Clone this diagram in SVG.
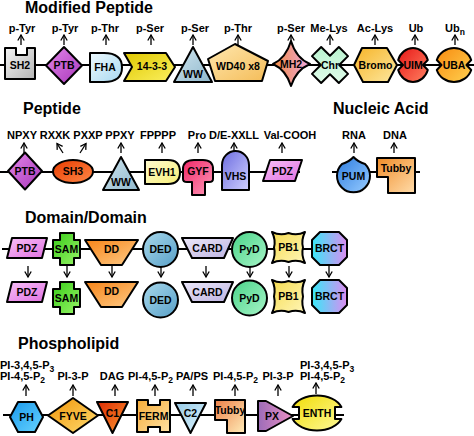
<svg xmlns="http://www.w3.org/2000/svg" width="474" height="436" viewBox="0 0 474 436">
<style>
.sh{stroke:#000;stroke-width:2;stroke-linejoin:round}
.bb{stroke:#000;stroke-width:2;fill:none}
.ar{stroke:#000;stroke-width:1.3;fill:none;marker-end:url(#ah)}
text{font-family:"Liberation Sans",Arial,Helvetica,sans-serif;font-weight:bold;fill:#000}
.t{font-size:10.5px;text-anchor:middle}
.l{font-size:11px;text-anchor:middle}
.ls{font-size:11px;text-anchor:start}
.ti{font-size:16px}
.sub{font-size:8.5px}
</style>
<defs>
<marker id="ah" viewBox="0 0 8 8" refX="6.5" refY="4" markerWidth="8" markerHeight="8" markerUnits="userSpaceOnUse" orient="auto"><path d="M1,0.8 L6.5,4 L1,7.2" fill="none" stroke="#000" stroke-width="1.3"/></marker>
<linearGradient id="gGray" x1="0" y1="0" x2="1" y2="1"><stop offset="0" stop-color="#f4f4f4"/><stop offset="1" stop-color="#b4b4b4"/></linearGradient>
<linearGradient id="gPtb" x1="0" y1="0" x2="1" y2="1"><stop offset="0" stop-color="#e488ec"/><stop offset="1" stop-color="#a836b8"/></linearGradient>
<linearGradient id="gFha" x1="0" y1="0" x2="1" y2="1"><stop offset="0" stop-color="#eefaff"/><stop offset="1" stop-color="#a8d8f0"/></linearGradient>
<linearGradient id="gYel" x1="0" y1="0" x2="1" y2="1"><stop offset="0" stop-color="#e0c800"/><stop offset="1" stop-color="#fbf060"/></linearGradient>
<linearGradient id="gWw" x1="0" y1="0" x2="1" y2="1"><stop offset="0" stop-color="#d0e6f0"/><stop offset="1" stop-color="#90b8cc"/></linearGradient>
<linearGradient id="gWd" x1="0" y1="0" x2="1" y2="1"><stop offset="0" stop-color="#ffe8b0"/><stop offset="1" stop-color="#f4bc58"/></linearGradient>
<linearGradient id="gMh2" x1="0" y1="0" x2="1" y2="0"><stop offset="0" stop-color="#f08a40"/><stop offset="1" stop-color="#f0a8e0"/></linearGradient>
<linearGradient id="gChr" x1="0" y1="0" x2="1" y2="1"><stop offset="0" stop-color="#b0f0c8"/><stop offset="1" stop-color="#eafff2"/></linearGradient>
<linearGradient id="gBro" x1="0" y1="0" x2="1" y2="1"><stop offset="0" stop-color="#f6b428"/><stop offset="1" stop-color="#fde8a0"/></linearGradient>
<linearGradient id="gUim" x1="0" y1="0" x2="1" y2="1"><stop offset="0" stop-color="#e81818"/><stop offset="1" stop-color="#ff8060"/></linearGradient>
<linearGradient id="gUba" x1="0" y1="0" x2="1" y2="1"><stop offset="0" stop-color="#f88c10"/><stop offset="1" stop-color="#ffd050"/></linearGradient>
<linearGradient id="gSh3" x1="0" y1="0" x2="1" y2="1"><stop offset="0" stop-color="#e83c00"/><stop offset="1" stop-color="#ff8848"/></linearGradient>
<linearGradient id="gEvh" x1="0" y1="0" x2="1" y2="1"><stop offset="0" stop-color="#fffad0"/><stop offset="1" stop-color="#f6ee78"/></linearGradient>
<linearGradient id="gGyf" x1="0" y1="0" x2="1" y2="1"><stop offset="0" stop-color="#f02868"/><stop offset="1" stop-color="#ff98b8"/></linearGradient>
<linearGradient id="gVhs" x1="0" y1="0" x2="1" y2="1"><stop offset="0" stop-color="#6c6ce0"/><stop offset="1" stop-color="#d0d0ff"/></linearGradient>
<linearGradient id="gPdz" x1="0" y1="0" x2="1" y2="1"><stop offset="0" stop-color="#f8c0f8"/><stop offset="1" stop-color="#e070e0"/></linearGradient>
<linearGradient id="gPum" x1="0" y1="0" x2="1" y2="1"><stop offset="0" stop-color="#2c7ce0"/><stop offset="1" stop-color="#98ccff"/></linearGradient>
<linearGradient id="gTub" x1="0" y1="0" x2="1" y2="1"><stop offset="0" stop-color="#f08c28"/><stop offset="1" stop-color="#ffdcaa"/></linearGradient>
<linearGradient id="gSam" x1="0" y1="0" x2="1" y2="1"><stop offset="0" stop-color="#38cc18"/><stop offset="1" stop-color="#98f468"/></linearGradient>
<linearGradient id="gDd" x1="0" y1="0" x2="1" y2="1"><stop offset="0" stop-color="#f68418"/><stop offset="1" stop-color="#ffcc88"/></linearGradient>
<linearGradient id="gDed" x1="0" y1="0" x2="1" y2="1"><stop offset="0" stop-color="#a8d8ec"/><stop offset="1" stop-color="#58a0c8"/></linearGradient>
<linearGradient id="gCard" x1="0" y1="0" x2="1" y2="1"><stop offset="0" stop-color="#ece8fa"/><stop offset="1" stop-color="#bcb2e0"/></linearGradient>
<linearGradient id="gPyd" x1="0" y1="0" x2="1" y2="1"><stop offset="0" stop-color="#48d488"/><stop offset="1" stop-color="#a8f4c8"/></linearGradient>
<linearGradient id="gPb1" x1="0" y1="0" x2="1" y2="1"><stop offset="0" stop-color="#f6dc50"/><stop offset="1" stop-color="#fff6b8"/></linearGradient>
<linearGradient id="gBrct" x1="0" y1="0" x2="1" y2="0"><stop offset="0" stop-color="#38e8f8"/><stop offset="1" stop-color="#dc8cf0"/></linearGradient>
<linearGradient id="gPh" x1="0" y1="0" x2="1" y2="1"><stop offset="0" stop-color="#1898ec"/><stop offset="1" stop-color="#68d4ff"/></linearGradient>
<linearGradient id="gFyve" x1="0" y1="0" x2="1" y2="1"><stop offset="0" stop-color="#f09408"/><stop offset="1" stop-color="#ffdc70"/></linearGradient>
<linearGradient id="gC1" x1="0" y1="0" x2="1" y2="1"><stop offset="0" stop-color="#dc2c04"/><stop offset="1" stop-color="#ff9a30"/></linearGradient>
<linearGradient id="gFerm" x1="0" y1="0" x2="1" y2="1"><stop offset="0" stop-color="#f6ac38"/><stop offset="1" stop-color="#ffe2a4"/></linearGradient>
<linearGradient id="gC2" x1="0" y1="0" x2="1" y2="1"><stop offset="0" stop-color="#98cce8"/><stop offset="1" stop-color="#dcf2fc"/></linearGradient>
<linearGradient id="gTub2" x1="0" y1="0" x2="1" y2="1"><stop offset="0" stop-color="#ec8048"/><stop offset="1" stop-color="#ffecb8"/></linearGradient>
<linearGradient id="gPx" x1="0" y1="0" x2="1" y2="0"><stop offset="0" stop-color="#9c6cb8"/><stop offset="1" stop-color="#ec90c4"/></linearGradient>
<linearGradient id="gEnth" x1="0" y1="0" x2="1" y2="1"><stop offset="0" stop-color="#f0dc08"/><stop offset="1" stop-color="#fffa98"/></linearGradient>
</defs>

<!-- section titles -->
<g id="titles">
<text class="ti" x="25" y="13">Modified Peptide</text>
<text class="ti" x="23" y="114">Peptide</text>
<text class="ti" x="333" y="114">Nucleic Acid</text>
<text class="ti" x="25" y="223">Domain/Domain</text>
<text class="ti" x="18" y="349">Phospholipid</text>
</g>

<!-- connectors: backbones and arrows -->
<g id="connectors">
<line class="bb" x1="0" y1="65" x2="474" y2="65"/>
<line class="bb" x1="0" y1="172" x2="300" y2="172"/>
<line class="bb" x1="332" y1="172" x2="420" y2="172"/>
<line class="bb" x1="2" y1="249" x2="313" y2="249"/>
<line class="bb" x1="3" y1="415" x2="344" y2="415"/>
<!-- row 1 arrows -->
<line class="ar" x1="21" y1="45" x2="21" y2="35"/>
<line class="ar" x1="64" y1="45" x2="64" y2="35"/>
<line class="ar" x1="106" y1="45" x2="106" y2="35"/>
<line class="ar" x1="151" y1="45" x2="151" y2="35"/>
<line class="ar" x1="193" y1="45" x2="193" y2="35"/>
<line class="ar" x1="238" y1="45" x2="238" y2="35"/>
<line class="ar" x1="291" y1="45" x2="291" y2="35"/>
<line class="ar" x1="330" y1="45" x2="330" y2="35"/>
<line class="ar" x1="375" y1="45" x2="375" y2="35"/>
<line class="ar" x1="415" y1="45" x2="415" y2="35"/>
<line class="ar" x1="455" y1="45" x2="455" y2="35"/>
<!-- row 2 arrows -->
<line class="ar" x1="24" y1="153" x2="24" y2="143"/>
<line class="ar" x1="63" y1="153" x2="57" y2="143.5"/>
<line class="ar" x1="80" y1="153" x2="86" y2="143.5"/>
<line class="ar" x1="121" y1="153" x2="121" y2="143"/>
<line class="ar" x1="162" y1="153" x2="162" y2="143"/>
<line class="ar" x1="198" y1="153" x2="198" y2="143"/>
<line class="ar" x1="234" y1="153" x2="234" y2="143"/>
<line class="ar" x1="282" y1="153" x2="282" y2="143"/>
<line class="ar" x1="354" y1="153" x2="354" y2="143"/>
<line class="ar" x1="394" y1="153" x2="394" y2="143"/>
<!-- row 3 arrows (down) -->
<line class="ar" x1="28" y1="266" x2="28" y2="277"/>
<line class="ar" x1="67" y1="266" x2="67" y2="277"/>
<line class="ar" x1="112" y1="266" x2="112" y2="277"/>
<line class="ar" x1="161" y1="266" x2="161" y2="277"/>
<line class="ar" x1="206" y1="266" x2="206" y2="277"/>
<line class="ar" x1="250" y1="266" x2="250" y2="277"/>
<line class="ar" x1="289" y1="266" x2="289" y2="277"/>
<line class="ar" x1="329" y1="266" x2="329" y2="277"/>
<!-- row 4 arrows -->
<line class="ar" x1="26" y1="396" x2="26" y2="385"/>
<line class="ar" x1="73" y1="396" x2="73" y2="385"/>
<line class="ar" x1="115" y1="396" x2="115" y2="385"/>
<line class="ar" x1="155" y1="396" x2="155" y2="385"/>
<line class="ar" x1="193" y1="396" x2="193" y2="385"/>
<line class="ar" x1="235" y1="396" x2="235" y2="385"/>
<line class="ar" x1="278" y1="396" x2="278" y2="385"/>
<line class="ar" x1="316" y1="394" x2="316" y2="383"/>
</g>

<!-- ligand labels -->
<g id="labels">
<text class="l" x="22" y="32">p-Tyr</text>
<text class="l" x="65" y="32">p-Tyr</text>
<text class="l" x="105" y="32">p-Thr</text>
<text class="l" x="150" y="32">p-Ser</text>
<text class="l" x="195" y="32">p-Ser</text>
<text class="l" x="238" y="32">p-Thr</text>
<text class="l" x="291" y="32">p-Ser</text>
<text class="l" x="329" y="32">Me-Lys</text>
<text class="l" x="375" y="32">Ac-Lys</text>
<text class="l" x="416" y="32">Ub</text>
<text class="l" x="455" y="32">Ub<tspan class="sub" dy="3">n</tspan></text>

<text class="l" x="22" y="139">NPXY</text>
<text class="l" x="55" y="139">RXXK</text>
<text class="l" x="88" y="139">PXXP</text>
<text class="l" x="120" y="139">PPXY</text>
<text class="l" x="158" y="139">FPPPP</text>
<text class="l" x="197" y="139">Pro</text>
<text class="l" x="234" y="139">D/E-XXLL</text>
<text class="l" x="290" y="139">Val-COOH</text>
<text class="l" x="354" y="139">RNA</text>
<text class="l" x="395" y="139">DNA</text>

<text class="ls" x="0" y="369">PI-3,4,5-P<tspan class="sub" dy="3">3</tspan></text>
<text class="ls" x="0" y="380">PI-4,5-P<tspan class="sub" dy="3">2</tspan></text>
<text class="l" x="73" y="380">PI-3-P</text>
<text class="l" x="112" y="380">DAG</text>
<text class="ls" x="128" y="380">PI-4,5-P<tspan class="sub" dy="3">2</tspan></text>
<text class="l" x="192" y="380">PA/PS</text>
<text class="ls" x="213" y="380">PI-4,5-P<tspan class="sub" dy="3">2</tspan></text>
<text class="l" x="278" y="380">PI-3-P</text>
<text class="ls" x="300" y="369">PI-3,4,5-P<tspan class="sub" dy="3">3</tspan></text>
<text class="ls" x="300" y="380">PI-4,5-P<tspan class="sub" dy="3">2</tspan></text>
</g>

<!-- Row 1: modified peptide binding domains -->
<g id="n-sh2"><path class="sh" fill="url(#gGray)" d="M5,48 H16 V55 H27 V48 H35 V79 H5 Z"/><text class="t" x="20" y="69">SH2</text></g>
<g id="n-ptb1"><path class="sh" fill="url(#gPtb)" d="M64,47 L82,65.5 L64,84 L46,65.5 Z"/><text class="t" x="64" y="69">PTB</text></g>
<g id="n-fha"><path class="sh" fill="url(#gFha)" d="M90,53 H104 Q122,53 122,67.5 Q122,82 104,82 H90 Z"/><text class="t" x="105" y="71">FHA</text></g>
<g id="n-1433"><path class="sh" fill="url(#gYel)" d="M124,53 H166 L175,67 L166,81 H124 L132,67 Z"/><text class="t" x="152" y="70">14-3-3</text></g>
<g id="n-ww1"><path class="sh" fill="url(#gWw)" d="M193,47 L212,82 H174 Z"/><text class="t" x="193" y="78">WW</text></g>
<g id="n-wd40"><path class="sh" fill="url(#gWd)" d="M235,44 L268,61 L262,81 L215,81 L208,59 Z"/><text class="t" x="238" y="70">WD40 x8</text></g>
<g id="n-mh2"><path class="sh" fill="url(#gMh2)" d="M291,41 Q296,58 310,64 Q296,70 291,86 Q286,70 273,64 Q286,58 291,41 Z"/><text class="t" x="291" y="68">MH2</text></g>
<g id="n-chr"><path class="sh" fill="url(#gChr)" transform="translate(330,65) rotate(45)" d="M-6.5,-19 H6.5 V-6.5 H19 V6.5 H6.5 V19 H-6.5 V6.5 H-19 V-6.5 H-6.5 Z"/><text class="t" x="330" y="69">Chr</text></g>
<g id="n-bromo"><path class="sh" fill="url(#gBro)" d="M362,48 H387 L397,65 L388,82 H363 L354,65 Z"/><text class="t" x="375.5" y="69">Bromo</text></g>
<g id="n-uim"><path class="sh" fill="url(#gUim)" d="M398.2,60 A15.5,17 0 0 1 427.8,60 L423,65 L427.8,70 A15.5,17 0 0 1 398.2,70 L403,65 Z"/><text class="t" x="413" y="69">UIM</text></g>
<g id="n-uba"><path class="sh" fill="url(#gUba)" d="M436.8,60 A18,17 0 0 1 471.2,60 L466.5,65 L471.2,70 A18,17 0 0 1 436.8,70 L441.5,65 Z"/><text class="t" x="454" y="69">UBA</text></g>

<!-- Row 2: peptide binding domains -->
<g id="n-ptb2"><path class="sh" fill="url(#gPtb)" d="M25,152.5 L42,171 L25,189.5 L8,171 Z"/><text class="t" x="25" y="175">PTB</text></g>
<g id="n-sh3"><ellipse class="sh" fill="url(#gSh3)" cx="73" cy="171.5" rx="20" ry="11.5"/><text class="t" x="73" y="175">SH3</text></g>
<g id="n-ww2"><path class="sh" fill="url(#gWw)" d="M121,157 L139,190 H103 Z"/><text class="t" x="121" y="186">WW</text></g>
<g id="n-evh1"><path class="sh" fill="url(#gEvh)" d="M145,160 H168 Q180,160 180,172 Q180,184 168,184 H145 Z"/><text class="t" x="162" y="176">EVH1</text></g>
<g id="n-gyf"><path class="sh" fill="url(#gGyf)" d="M183,179 V169 Q183,160 194,160 H203 Q213,160 213,169 V179 Q213,182 209,182 H205 V195 H192 V182 H187 Q183,182 183,179 Z"/><text class="t" x="198" y="175">GYF</text></g>
<g id="n-vhs"><path class="sh" fill="url(#gVhs)" d="M222,190 V165 A13.5,14 0 0 1 249,165 V190 Z"/><text class="t" x="235.5" y="180">VHS</text></g>
<g id="n-pdz1"><path class="sh" fill="url(#gPdz)" d="M270,160 H302 L295,181 H263 Z"/><text class="t" x="282.5" y="175">PDZ</text></g>
<g id="n-pum"><path class="sh" fill="url(#gPum)" d="M353.5,157 Q358,162 365,164 A16.5,16.5 0 1 1 342,164 Q349,162 353.5,157 Z"/><text class="t" x="353.5" y="180">PUM</text></g>
<g id="n-tubby1"><path class="sh" fill="url(#gTub)" d="M377,158 H415 V193 H388 V177 H377 Z"/><text class="t" x="396" y="172">Tubby</text></g>

<!-- Row 3: domain/domain, top -->
<g id="n-pdz2"><path class="sh" fill="url(#gPdz)" d="M12,238 H47 L42,258 H7 Z"/><text class="t" x="27" y="252">PDZ</text></g>
<g id="n-sam"><path class="sh" fill="url(#gSam)" d="M60,233 H74 V240 H80 V258 H74 V265 H60 V258 H53 V240 H60 Z"/><text class="t" x="66.5" y="253">SAM</text></g>
<g id="n-dd"><path class="sh" fill="url(#gDd)" d="M85,240 H138 L122,265 H101 Z"/><text class="t" x="111.5" y="253">DD</text></g>
<g id="n-ded"><circle class="sh" fill="url(#gDed)" cx="160.5" cy="249.5" r="17.5"/><text class="t" x="160.5" y="253">DED</text></g>
<g id="n-card"><path class="sh" fill="url(#gCard)" d="M182,238 H233 L224,258 H192 Z"/><text class="t" x="207.5" y="252">CARD</text></g>
<g id="n-pyd"><circle class="sh" fill="url(#gPyd)" cx="249.5" cy="249.5" r="17.5"/><text class="t" x="249.5" y="253">PyD</text></g>
<g id="n-pb1"><path class="sh" fill="url(#gPb1)" d="M272,232 Q280,236 288.5,233 Q297,236 305,232 Q301,240 303,247.5 Q301,255 305,263 Q297,259 288.5,262 Q280,259 272,263 Q276,255 274,247.5 Q276,240 272,232 Z"/><text class="t" x="288.5" y="251">PB1</text></g>
<g id="n-brct"><path class="sh" fill="url(#gBrct)" d="M320,232 H339 L347,240 V257 L339,265 H320 L312,257 V240 Z"/><text class="t" x="329.5" y="252">BRCT</text></g>

<!-- Row 3: domain/domain, bottom -->
<g id="n-pdz3"><path class="sh" fill="url(#gPdz)" d="M12,282 H47 L42,302 H7 Z"/><text class="t" x="27" y="296">PDZ</text></g>
<g id="n-sam2"><path class="sh" fill="url(#gSam)" d="M60,282 H74 V289 H80 V307 H74 V314 H60 V307 H53 V289 H60 Z"/><text class="t" x="66.5" y="302">SAM</text></g>
<g id="n-dd2"><path class="sh" fill="url(#gDd)" d="M85,282 H138 L122,307 H101 Z"/><text class="t" x="111.5" y="295">DD</text></g>
<g id="n-ded2"><circle class="sh" fill="url(#gDed)" cx="160.5" cy="300" r="17.5"/><text class="t" x="160.5" y="303.5">DED</text></g>
<g id="n-card2"><path class="sh" fill="url(#gCard)" d="M182,282 H233 L224,302 H192 Z"/><text class="t" x="207.5" y="296">CARD</text></g>
<g id="n-pyd2"><circle class="sh" fill="url(#gPyd)" cx="249.5" cy="298" r="17.5"/><text class="t" x="249.5" y="301.5">PyD</text></g>
<g id="n-pb12"><path class="sh" fill="url(#gPb1)" d="M272,280 Q280,284 288.5,281 Q297,284 305,280 Q301,288 303,296.5 Q301,305 305,313 Q297,309 288.5,312 Q280,309 272,313 Q276,305 274,296.5 Q276,288 272,280 Z"/><text class="t" x="288.5" y="300">PB1</text></g>
<g id="n-brct2"><path class="sh" fill="url(#gBrct)" d="M320,280 H339 L347,288 V305 L339,313 H320 L312,305 V288 Z"/><text class="t" x="329.5" y="300">BRCT</text></g>

<!-- Row 4: phospholipid binding domains -->
<g id="n-ph"><path class="sh" fill="url(#gPh)" d="M18,402 H35 L43,417 L35,432 H18 L10,417 Z"/><text class="t" x="26.5" y="420.5">PH</text></g>
<g id="n-fyve"><path class="sh" fill="url(#gFyve)" d="M73,398 L98,415.5 L73,433 L48,415.5 Z"/><text class="t" x="73" y="419.5">FYVE</text></g>
<g id="n-c1"><path class="sh" fill="url(#gC1)" d="M97,402 H128 L112.5,433 Z"/><text class="t" x="112.5" y="417">C1</text></g>
<g id="n-ferm"><path class="sh" fill="url(#gFerm)" d="M137,400 H148 V405 H160 V400 H170 V432 H160 V427 H148 V432 H137 Z"/><text class="t" x="153.5" y="419.5">FERM</text></g>
<g id="n-c2"><path class="sh" fill="url(#gC2)" d="M175,403 H206 L190.5,433 Z"/><text class="t" x="190.5" y="417">C2</text></g>
<g id="n-tubby2"><path class="sh" fill="url(#gTub2)" d="M215,400 H245 V433 H227 V420 H215 Z"/><text class="t" x="230" y="414">Tubby</text></g>
<g id="n-px"><path class="sh" fill="url(#gPx)" d="M258,401 H266 L293,416 L266,431 H258 Z"/><text class="t" x="272" y="420">PX</text></g>
<g id="n-enth"><path class="sh" fill="url(#gEnth)" d="M292.6,407 A26,17.5 0 0 1 341.4,407 H335 V419 H341.4 A26,17.5 0 0 1 292.6,419 H299 V407 Z"/><text class="t" x="317" y="417">ENTH</text></g>
</svg>
